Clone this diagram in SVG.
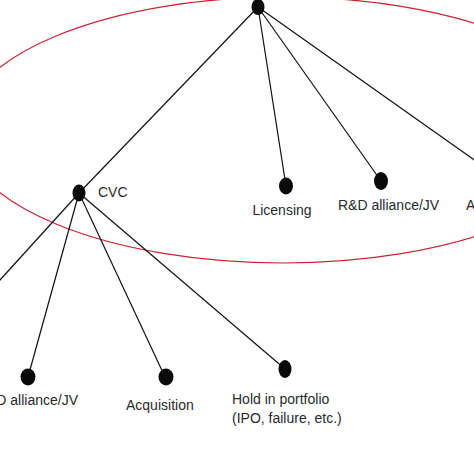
<svg xmlns="http://www.w3.org/2000/svg" width="474" height="474" viewBox="0 0 474 474">
<style>
.edge{stroke:#111;stroke-width:1.2;fill:none}
.dot{fill:#0a0a0a}
.lbl{font-family:"Liberation Sans",Arial,sans-serif;font-size:14px;fill:#2a2a2a}
</style>
<rect width="474" height="474" fill="#fff"/>
<ellipse id="boundary" cx="283" cy="130" rx="321" ry="133" fill="none" stroke="#cc2233" stroke-width="1.2"/>
<g id="connectors">
<line class="edge" x1="258" y1="7" x2="79" y2="193"/>
<line class="edge" x1="258" y1="7" x2="286" y2="186"/>
<line class="edge" x1="258" y1="7" x2="381" y2="181"/>
<line class="edge" x1="258" y1="7" x2="490" y2="171"/>
<line class="edge" x1="79" y1="193" x2="-10" y2="291"/>
<line class="edge" x1="79" y1="193" x2="28" y2="377"/>
<line class="edge" x1="79" y1="193" x2="165" y2="377"/>
<line class="edge" x1="79" y1="193" x2="285" y2="369"/>
</g>
<g id="root"><ellipse class="dot" cx="258" cy="7" rx="6.5" ry="8"/></g>
<g id="cvc"><ellipse class="dot" cx="79" cy="193" rx="6.5" ry="8.5"/><text class="lbl" x="98" y="197">CVC</text></g>
<g id="licensing"><ellipse class="dot" cx="286" cy="186" rx="7" ry="8.5"/><text class="lbl" x="282" y="215" text-anchor="middle">Licensing</text></g>
<g id="rd-alliance-top"><ellipse class="dot" cx="381" cy="181" rx="7" ry="9"/><text class="lbl" x="338" y="210">R&amp;D alliance/JV</text></g>
<g id="acquisition-top"><text class="lbl" x="466" y="210">Acquisition</text></g>
<g id="rd-alliance-cvc"><ellipse class="dot" cx="28" cy="377" rx="7.5" ry="8.5"/><text class="lbl" x="78" y="405" text-anchor="end">R&amp;D alliance/JV</text></g>
<g id="acquisition-cvc"><ellipse class="dot" cx="166" cy="377" rx="7.5" ry="8.5"/><text class="lbl" x="126" y="410">Acquisition</text></g>
<g id="hold"><ellipse class="dot" cx="285" cy="369" rx="6.5" ry="9"/><text class="lbl" x="232" y="404">Hold in portfolio</text><text class="lbl" x="232" y="423">(IPO, failure, etc.)</text></g>
</svg>
